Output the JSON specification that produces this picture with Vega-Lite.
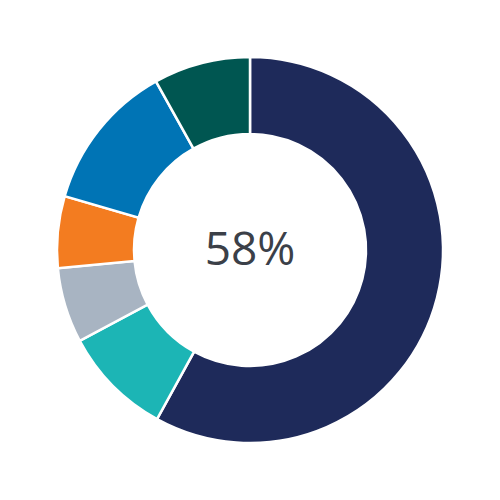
{
  "$schema": "https://vega.github.io/schema/vega-lite/v6.json",
  "width": 500,
  "height": 500,
  "autosize": {"type": "fit", "contains": "padding"},
  "padding": 0,
  "background": "#ffffff",
  "view": {"stroke": null},
  "layer": [
    {
      "data": {
        "values": [
          {"segment": "A", "order": 1, "share": 58.0},
          {"segment": "B", "order": 2, "share": 9.2},
          {"segment": "C", "order": 3, "share": 6.3},
          {"segment": "D", "order": 4, "share": 6.0},
          {"segment": "E", "order": 5, "share": 12.4},
          {"segment": "F", "order": 6, "share": 8.1}
        ]
      },
      "mark": {"type": "arc", "radius": 193, "radius2": 116, "stroke": "#ffffff", "strokeWidth": 2.5},
      "encoding": {
        "theta": {"field": "share", "type": "quantitative", "stack": true},
        "order": {"field": "order", "type": "quantitative"},
        "color": {
          "field": "segment",
          "type": "nominal",
          "scale": {
            "domain": ["A", "B", "C", "D", "E", "F"],
            "range": ["#1e2a5a", "#1cb5b5", "#a8b4c2", "#f37c20", "#0074b5", "#005651"]
          },
          "legend": null
        }
      }
    },
    {
      "data": {"values": [{"label": "58%"}]},
      "mark": {
        "type": "text",
        "font": "Open Sans",
        "fontSize": 46,
        "color": "#3b4048",
        "align": "center",
        "baseline": "middle",
        "dy": 1
      },
      "encoding": {"text": {"field": "label", "type": "nominal"}}
    }
  ]
}
